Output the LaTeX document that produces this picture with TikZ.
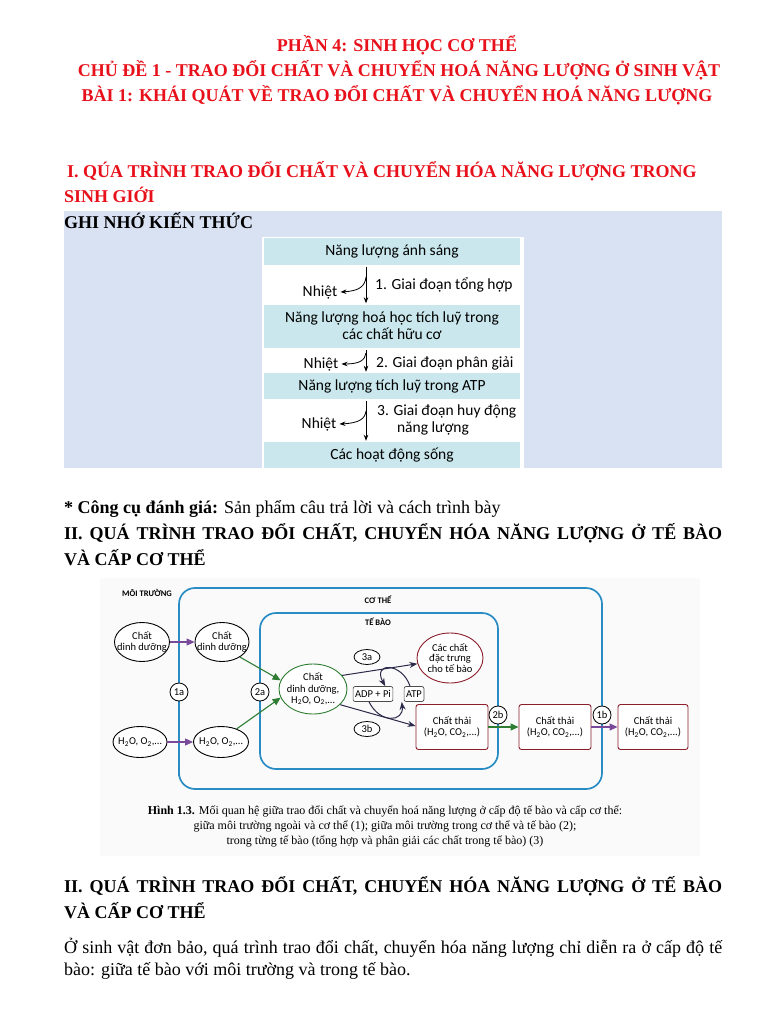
\documentclass[tikz,border=0pt]{standalone}
\usepackage{fontspec}
\setmainfont{Liberation Serif}
\newfontfamily\figf{Carlito}
\usetikzlibrary{shapes.geometric,arrows.meta}
\definecolor{tred}{HTML}{E8101A}
\definecolor{ghibg}{HTML}{D9E2F3}
\definecolor{bandc}{HTML}{C9E7EC}
\definecolor{cellblue}{HTML}{2A8CC4}
\definecolor{gcol}{HTML}{2E7D32}
\definecolor{pcol}{HTML}{7A4A9A}
\definecolor{rcol}{HTML}{8B1E2B}
\definecolor{ncol}{HTML}{2C2A4A}
\definecolor{paper}{HTML}{FAFAFA}
\tikzset{
  title/.style={text=tred,font=\bfseries\fontsize{18}{21}\selectfont,inner sep=0pt},
  bodyb/.style={font=\bfseries\fontsize{18}{21}\selectfont,inner sep=0pt,anchor=west},
  body/.style={font=\fontsize{18}{21}\selectfont,inner sep=0pt,anchor=west},
  band/.style={fill=bandc,draw=none,minimum width=256pt,align=center,inner sep=0pt,font=\figf\fontsize{15.5}{17}\selectfont},
  ftext/.style={font=\figf\fontsize{15.5}{17}\selectfont,inner sep=0pt},
  farr/.style={-{Stealth[length=6pt,width=4.5pt]},line width=0.9pt,black},
  harr/.style={-{Stealth[length=6pt,width=4.5pt]},line width=0.8pt,black},
  ell/.style={ellipse,draw,line width=0.9pt,inner sep=0pt,fill=white},
  etext/.style={align=center,inner sep=0pt,font=\figf\fontsize{10.5}{11.2}\selectfont},
  lab/.style={circle,draw,line width=0.8pt,fill=white,inner sep=0pt,minimum size=18pt,font=\figf\fontsize{10.5}{11}\selectfont},
  olab/.style={ellipse,draw,line width=0.8pt,fill=white,inner sep=0pt,minimum width=26pt,minimum height=15pt,font=\figf\fontsize{10.5}{11}\selectfont},
  wbox/.style={draw=rcol,line width=0.9pt,rounded corners=2.5pt,fill=white,minimum width=72pt,minimum height=45pt,align=center,inner sep=0pt,font=\figf\fontsize{10.5}{11.5}\selectfont},
  sbox/.style={draw=black!70,line width=0.7pt,rounded corners=2pt,fill=white,inner sep=2pt,minimum height=15pt,font=\figf\fontsize{10.5}{11}\selectfont},
  cellline/.style={draw=cellblue,line width=1.7pt,rounded corners=16pt},
  tarr/.style={-{Triangle[length=8pt,width=7pt]},line width=1.1pt},
  narr/.style={-{Stealth[length=8pt,width=6pt]},line width=1pt,ncol},
  hd/.style={font=\figf\bfseries\fontsize{8.5}{9}\selectfont,inner sep=0pt},
  captxt/.style={font=\fontsize{12}{14}\selectfont,inner sep=0pt}
}
\begin{document}
\begin{tikzpicture}[x=1pt,y=-1pt]
\useasboundingbox (0,0) rectangle (768,1024);
\fill[white] (0,0) rectangle (768,1024);

% titles
\node[title] (t1) at (397,45) {PHẦN 4: SINH HỌC CƠ THỂ};
\node[title] (t2) at (399,70) {CHỦ ĐỀ 1 - TRAO ĐỔI CHẤT VÀ CHUYỂN HOÁ NĂNG LƯỢNG Ở SINH VẬT};
\node[title] (t3) at (397,95) {BÀI 1: KHÁI QUÁT VỀ TRAO ĐỔI CHẤT VÀ CHUYỂN HOÁ NĂNG LƯỢNG};
\node[title,anchor=west] (h1) at (67,171) {I. QÚA TRÌNH TRAO ĐỔI CHẤT VÀ CHUYỂN HÓA NĂNG LƯỢNG TRONG};
\node[title,anchor=west] (h1b) at (64,195) {SINH GIỚI};

% GHI NHO box
\fill[ghibg] (64,211) rectangle (722,468);
\node[bodyb] (ghi) at (64,221) {GHI NHỚ KIẾN THỨC};
\fill[white] (262,237) rectangle (524,468);
\node[band,minimum height=27pt] (b1) at (392,251) {Năng lượng ánh sáng};
\node[band,minimum height=43pt] (b2) at (392,326) {Năng lượng hoá học tích luỹ trong\\các chất hữu cơ};
\node[band,minimum height=26pt] (b3) at (392,386) {Năng lượng tích luỹ trong ATP};
\node[band,minimum height=26pt] (b4) at (392,455) {Các hoạt động sống};

\node[ftext] (n1) at (320,292) {Nhiệt};
\node[ftext,anchor=west] (s1) at (375,285) {1. Giai đoạn tổng hợp};
\node[ftext] (n2) at (321,364) {Nhiệt};
\node[ftext,anchor=west] (s2) at (376,363) {2. Giai đoạn phân giải};
\node[ftext] (n3) at (319,424) {Nhiệt};
\node[ftext,anchor=west] (s3) at (377,411) {3. Giai đoạn huy động};
\node[ftext] (s3b) at (433,428) {năng lượng};

\draw[farr] ([xshift=-26pt,yshift=-2pt]b1.south) -- ([xshift=-26pt,yshift=1pt]b2.north);
\draw[farr] ([xshift=-26pt,yshift=-2pt]b2.south) -- ([xshift=-26pt,yshift=1pt]b3.north);
\draw[farr] ([xshift=-26pt,yshift=-2pt]b3.south) -- ([xshift=-26pt,yshift=1pt]b4.north);
\coordinate (c1) at (366,277);
\coordinate (c2) at (366,353);
\coordinate (c3) at (366,411);
\draw[harr] (c1) .. controls (365,287) and (358,291) .. ([xshift=3pt]n1.east);
\draw[harr] (c2) .. controls (365,360) and (360,364) .. ([xshift=3pt]n2.east);
\draw[harr] (c3) .. controls (365,419) and (359,423) .. ([xshift=3pt]n3.east);

% text
\node[body] (cc) at (64,509) {\textbf{* Công cụ đánh giá:} Sản phẩm câu trả lời và cách trình bày};
\node[bodyb] (h2a) at (64,533) {\makebox[658pt][s]{II. QUÁ TRÌNH TRAO ĐỔI CHẤT, CHUYỂN HÓA NĂNG LƯỢNG Ở TẾ BÀO}};
\node[bodyb] (h2b) at (64,558) {VÀ CẤP CƠ THỂ};

% figure 2
\fill[paper] (100,578) rectangle (700,856);
\draw[cellline] (179,760) -- (179,588) -- (602,588) -- (602,789) -- (179,789) -- cycle;
\draw[cellline] (260,613) rectangle (498,769);
\node[hd] (mt) at (147,593) {MÔI TRƯỜNG};
\node[hd] (ct) at (378,600) {CƠ THỂ};
\node[hd] (tb) at (378,622) {TẾ BÀO};

\node[ell,minimum width=55pt,minimum height=39pt] (e1) at (142,642) {};
\node[etext] (e1t) at (e1) {Chất\\dinh dưỡng};
\node[ell,minimum width=54pt,minimum height=39pt] (e2) at (222,642) {};
\node[etext] (e2t) at (e2) {Chất\\dinh dưỡng};
\node[ell,minimum width=54pt,minimum height=31pt] (e3) at (140,742) {};
\node[etext] (e3t) at (e3) {H\textsubscript{2}O, O\textsubscript{2},…};
\node[ell,minimum width=55pt,minimum height=31pt] (e4) at (221,742) {};
\node[etext] (e4t) at (e4) {H\textsubscript{2}O, O\textsubscript{2},…};
\node[ell,draw=gcol,minimum width=68pt,minimum height=50pt] (g) at (313,689) {};
\node[etext] (gt) at (g) {Chất\\dinh dưỡng,\\H\textsubscript{2}O, O\textsubscript{2},…};
\node[ell,draw=rcol,minimum width=66pt,minimum height=50pt] (r) at (450,658) {};
\node[etext,font=\figf\fontsize{10.5}{10.5}\selectfont] (rt) at (r) {Các chất\\đặc trưng\\cho tế bào};
\node[sbox] (adp) at (373,694) {ADP + Pi};
\node[sbox] (atp) at (414,694) {ATP};
\node[wbox] (w1) at (452,727) {Chất thải\\(H\textsubscript{2}O, CO\textsubscript{2},...)};
\node[wbox] (w2) at (555,727) {Chất thải\\(H\textsubscript{2}O, CO\textsubscript{2},...)};
\node[wbox,minimum width=70pt] (w3) at (653,727) {Chất thải\\(H\textsubscript{2}O, CO\textsubscript{2},...)};

\draw[tarr,pcol] (e1) -- (e2);
\draw[tarr,pcol] (e3) -- (e4);
\draw[tarr,gcol] (e2.-40) -- (g.165);
\draw[tarr,gcol] (e4.40) -- (g.195);
\draw[tarr,gcol] (w1) -- (w2);
\draw[tarr,pcol] (w2) -- (w3);
\draw[narr] (g.25) -- (r.190);
\draw[narr] (g.-30) -- (w1.west |- 0,726);
\draw[narr] ([xshift=-4pt]atp.north) .. controls (402,662) and (372,662) .. ([xshift=-8pt]adp.north east);
\draw[narr] ([xshift=-4pt]adp.south) .. controls (380,724) and (404,722) .. ([xshift=-2pt]atp.south west);

\node[lab] (l1a) at (179,692) {1a};
\node[lab] (l2a) at (260,692) {2a};
\node[lab] (l2b) at (498,715) {2b};
\node[lab] (l1b) at (602,715) {1b};
\node[olab] (l3a) at (367,657) {3a};
\node[olab] (l3b) at (367,729) {3b};

\node[captxt] (cp1) at (385,811) {\textbf{Hình 1.3.} Mối quan hệ giữa trao đổi chất và chuyển hoá năng lượng ở cấp độ tế bào và cấp cơ thể:};
\node[captxt] (cp2) at (385,826) {giữa môi trường ngoài và cơ thể (1); giữa môi trường trong cơ thể và tế bào (2);};
\node[captxt] (cp3) at (385,841) {trong từng tế bào (tổng hợp và phân giải các chất trong tế bào) (3)};

% final text
\node[bodyb] (h3a) at (64,886) {\makebox[658pt][s]{II. QUÁ TRÌNH TRAO ĐỔI CHẤT, CHUYỂN HÓA NĂNG LƯỢNG Ở TẾ BÀO}};
\node[bodyb] (h3b) at (64,911) {VÀ CẤP CƠ THỂ};
\node[body] (p1) at (64,948) {\makebox[658pt][s]{Ở sinh vật đơn bảo, quá trình trao đổi chất, chuyển hóa năng lượng chỉ diễn ra ở cấp độ tế}};
\node[body] (p2) at (64,971) {bào: giữa tế bào với môi trường và trong tế bào.};
\end{tikzpicture}
\end{document}
